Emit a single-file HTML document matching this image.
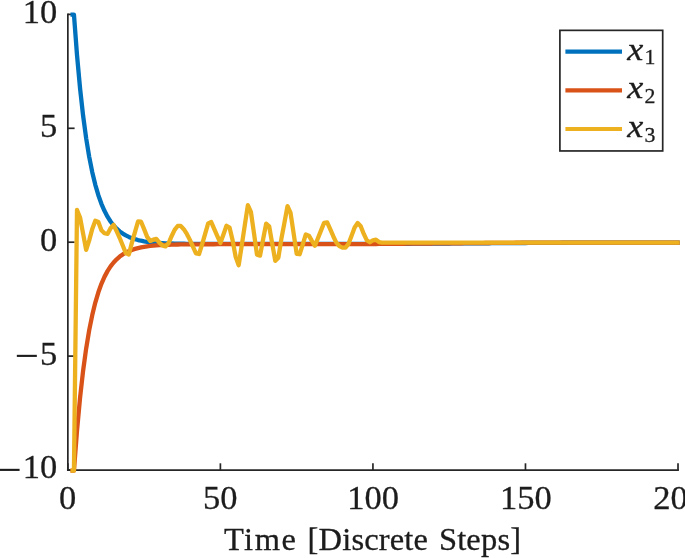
<!DOCTYPE html>
<html lang="en"><head><meta charset="utf-8"><title>State trajectories</title>
<style>
html,body{margin:0;padding:0;background:#fff;}
body{width:685px;height:558px;overflow:hidden;position:relative;font-family:"Liberation Serif","DejaVu Serif",serif;}
svg text{white-space:pre;}
</style></head><body>
<svg width="685" height="558" viewBox="0 0 685 558" style="position:absolute;left:0;top:0;display:block">
<rect x="0" y="0" width="685" height="558" fill="#ffffff"/>
<g stroke="#262626" stroke-width="1.7" fill="none" stroke-linecap="butt">
<path d="M67.85,13.4 V470.1 M66.95,470.1 H678.9"/>
<path d="M67.85,14.40 H74.6"/>
<path d="M67.85,128.30 H74.6"/>
<path d="M67.85,242.20 H74.6"/>
<path d="M67.85,356.10 H74.6"/>
<path d="M67.85,470.00 H74.6"/>
<path d="M67.85,470.1 V463.3"/>
<path d="M220.39,470.1 V463.3"/>
<path d="M372.93,470.1 V463.3"/>
<path d="M525.47,470.1 V463.3"/>
<path d="M678.01,470.1 V463.3"/>
</g>
<g fill="none" stroke-width="4.3" stroke-linejoin="round" stroke-linecap="butt">
<polyline stroke="#0072BD" points="70.50,14.60 73.95,14.60 77.00,54.97 80.05,88.23 83.10,115.64 86.15,138.23 89.21,156.84 92.26,172.17 95.31,184.81 98.36,195.22 101.41,203.80 104.46,210.87 107.51,216.70 110.56,221.50 113.61,225.45 116.66,228.71 119.71,231.39 122.76,233.61 125.82,235.43 128.87,236.93 131.92,238.17 134.97,239.19 138.02,240.03 141.07,240.73 144.12,241.30 147.17,241.77 150.22,242.15 153.27,242.47 156.32,242.74 159.37,242.95 162.42,243.13 165.48,243.28 168.53,243.40 171.58,243.50 174.63,243.58 177.68,243.65 180.73,243.71 183.78,243.75 186.83,243.79 189.88,243.82 192.93,243.85 195.98,243.87 199.03,243.89 202.09,243.90 205.14,243.91 208.19,243.92 211.24,243.93 214.29,243.94 217.34,243.94 220.39,243.95 223.44,243.95 226.49,243.95 229.54,243.96 232.59,243.96 235.64,243.96 238.69,243.96 241.75,243.96 244.80,243.96 247.85,243.96 250.90,243.96 253.95,243.97 257.00,243.97 260.05,243.97 263.10,243.97 266.15,243.97 269.20,243.97 272.25,243.97 275.30,243.97 278.36,243.97 281.41,243.97 284.46,243.97 287.51,243.97 290.56,243.97 293.61,243.97 296.66,243.97 299.71,243.97 302.76,243.97 305.81,243.97 308.86,243.97 311.91,243.97 314.96,243.97 318.02,243.97 321.07,243.97 324.12,243.97 327.17,243.97 330.22,243.97 333.27,243.97 336.32,243.97 339.37,243.97 342.42,243.97 345.47,243.97 348.52,243.97 351.57,243.97 354.63,243.97 357.68,243.97 360.73,243.97 363.78,243.97 366.83,243.97 369.88,243.97 372.93,243.97 375.98,243.95 379.03,243.93 382.08,243.91 385.13,243.89 388.18,243.87 391.23,243.85 394.29,243.83 397.34,243.81 400.39,243.79 403.44,243.77 406.49,243.75 409.54,243.73 412.59,243.71 415.64,243.69 418.69,243.67 421.74,243.66 424.79,243.64 427.84,243.62 430.90,243.60 433.95,243.58 437.00,243.56 440.05,243.54 443.10,243.52 446.15,243.50 449.20,243.48 452.25,243.46 455.30,243.44 458.35,243.42 461.40,243.40 464.45,243.38 467.50,243.36 470.56,243.34 473.61,243.32 476.66,243.30 479.71,243.28 482.76,243.26 485.81,243.24 488.86,243.23 491.91,243.21 494.96,243.19 498.01,243.17 501.06,243.15 504.11,243.13 507.17,243.11 510.22,243.09 513.27,243.07 516.32,243.05 519.37,243.03 522.42,243.01 525.47,242.99 528.52,242.97 531.57,242.95 534.62,242.93 537.67,242.91 540.72,242.89 543.77,242.87 546.83,242.85 549.88,242.83 552.93,242.81 555.98,242.80 559.03,242.78 562.08,242.76 565.13,242.74 568.18,242.72 571.23,242.70 574.28,242.68 577.33,242.66 580.38,242.64 583.44,242.62 586.49,242.60 589.54,242.60 592.59,242.60 595.64,242.60 598.69,242.60 601.74,242.60 604.79,242.60 607.84,242.60 610.89,242.60 613.94,242.60 616.99,242.60 620.04,242.60 623.10,242.60 626.15,242.60 629.20,242.60 632.25,242.60 635.30,242.60 638.35,242.60 641.40,242.60 644.45,242.60 647.50,242.60 650.55,242.60 653.60,242.60 656.65,242.60 659.71,242.60 662.76,242.60 665.81,242.60 668.86,242.60 671.91,242.60 674.96,242.60 678.01,242.60 679.70,242.60"/>
<polyline stroke="#D95319" points="70.50,470.60 73.95,470.60 77.00,430.75 80.05,397.92 83.10,370.86 86.15,348.57 89.21,330.20 92.26,315.06 95.31,302.59 98.36,292.31 101.41,283.84 104.46,276.87 107.51,271.12 110.56,266.38 113.61,262.47 116.66,259.26 119.71,256.61 122.76,254.42 125.82,252.62 128.87,251.14 131.92,249.92 134.97,248.91 138.02,248.08 141.07,247.40 144.12,246.83 147.17,246.37 150.22,245.99 153.27,245.67 156.32,245.41 159.37,245.20 162.42,245.02 165.48,244.88 168.53,244.76 171.58,244.66 174.63,244.58 177.68,244.51 180.73,244.45 183.78,244.41 186.83,244.37 189.88,244.34 192.93,244.32 195.98,244.29 199.03,244.28 202.09,244.26 205.14,244.25 208.19,244.24 211.24,244.23 214.29,244.23 217.34,244.22 220.39,244.22 223.44,244.21 226.49,244.21 229.54,244.21 232.59,244.21 235.64,244.20 238.69,244.20 241.75,244.20 244.80,244.20 247.85,244.20 250.90,244.20 253.95,244.20 257.00,244.20 260.05,244.20 263.10,244.20 266.15,244.20 269.20,244.20 272.25,244.20 275.30,244.20 278.36,244.20 281.41,244.20 284.46,244.20 287.51,244.20 290.56,244.20 293.61,244.20 296.66,244.20 299.71,244.20 302.76,244.20 305.81,244.20 308.86,244.20 311.91,244.20 314.96,244.20 318.02,244.20 321.07,244.20 324.12,244.20 327.17,244.20 330.22,244.20 333.27,244.20 336.32,244.20 339.37,244.20 342.42,244.20 345.47,244.20 348.52,244.20 351.57,244.20 354.63,244.20 357.68,244.20 360.73,244.16 363.78,244.13 366.83,244.09 369.88,244.06 372.93,244.03 375.98,243.99 379.03,243.96 382.08,243.92 385.13,243.90 388.18,243.87 391.23,243.84 394.29,243.82 397.34,243.79 400.39,243.76 403.44,243.74 406.49,243.71 409.54,243.68 412.59,243.66 415.64,243.63 418.69,243.61 421.74,243.58 424.79,243.55 427.84,243.53 430.90,243.50 433.95,243.47 437.00,243.45 440.05,243.42 443.10,243.39 446.15,243.37 449.20,243.34 452.25,243.31 455.30,243.29 458.35,243.26 461.40,243.23 464.45,243.21 467.50,243.18 470.56,243.16 473.61,243.13 476.66,243.10 479.71,243.08 482.76,243.05 485.81,243.02 488.86,243.00 491.91,242.97 494.96,242.94 498.01,242.92 501.06,242.89 504.11,242.86 507.17,242.84 510.22,242.81 513.27,242.79 516.32,242.76 519.37,242.73 522.42,242.71 525.47,242.68 528.52,242.65 531.57,242.63 534.62,242.60 537.67,242.60 540.72,242.60 543.77,242.60 546.83,242.60 549.88,242.60 552.93,242.60 555.98,242.60 559.03,242.60 562.08,242.60 565.13,242.60 568.18,242.60 571.23,242.60 574.28,242.60 577.33,242.60 580.38,242.60 583.44,242.60 586.49,242.60 589.54,242.60 592.59,242.60 595.64,242.60 598.69,242.60 601.74,242.60 604.79,242.60 607.84,242.60 610.89,242.60 613.94,242.60 616.99,242.60 620.04,242.60 623.10,242.60 626.15,242.60 629.20,242.60 632.25,242.60 635.30,242.60 638.35,242.60 641.40,242.60 644.45,242.60 647.50,242.60 650.55,242.60 653.60,242.60 656.65,242.60 659.71,242.60 662.76,242.60 665.81,242.60 668.86,242.60 671.91,242.60 674.96,242.60 678.01,242.60 679.70,242.60"/>
<polyline stroke="#EDB120" points="70.50,470.60 73.95,470.60 77.00,210.00 80.05,217.52 83.10,233.71 86.15,249.90 89.21,240.32 92.26,228.92 95.31,220.71 98.36,222.08 101.41,230.29 104.46,233.25 107.51,233.94 110.56,228.24 113.61,224.82 116.66,231.20 119.71,238.04 122.76,245.56 125.82,253.09 128.87,254.46 131.92,242.60 134.97,232.11 138.02,221.51 141.07,221.74 144.12,229.15 147.17,236.90 150.22,240.89 153.27,239.64 156.32,238.95 159.37,242.60 162.42,245.34 165.48,246.38 168.53,243.28 171.58,236.22 174.63,229.83 177.68,225.96 180.73,225.96 183.78,229.15 186.83,233.94 189.88,239.86 192.93,246.70 195.98,253.32 199.03,254.00 202.09,244.42 205.14,233.94 208.19,223.45 211.24,222.08 214.29,229.15 217.34,236.22 220.39,242.99 223.44,234.48 226.49,225.73 229.54,227.55 232.59,240.32 235.64,256.74 238.69,265.17 241.75,245.34 244.80,225.27 247.85,205.21 250.90,211.82 253.95,233.02 257.00,254.68 260.05,255.60 263.10,239.27 266.15,223.68 269.20,226.30 272.25,243.97 275.30,260.84 278.36,257.65 281.41,238.72 284.46,222.54 287.51,206.12 290.56,212.96 293.61,233.25 296.66,253.77 299.71,254.23 302.76,244.42 305.81,234.48 308.86,235.65 311.91,240.89 314.96,245.79 318.02,238.04 321.07,230.38 324.12,222.76 327.17,222.31 330.22,229.22 333.27,236.22 336.32,242.60 339.37,246.16 342.42,247.62 345.47,247.62 348.52,243.81 351.57,235.65 354.63,227.55 357.68,223.04 360.73,226.30 363.78,233.94 366.83,240.32 369.88,242.30 372.93,240.32 375.98,239.73 379.03,242.05 382.08,242.60 385.13,242.60 388.18,242.60 391.23,242.60 394.29,242.60 397.34,242.60 400.39,242.60 403.44,242.60 406.49,242.60 409.54,242.60 412.59,242.60 415.64,242.60 418.69,242.60 421.74,242.60 424.79,242.60 427.84,242.60 430.90,242.60 433.95,242.60 437.00,242.60 440.05,242.60 443.10,242.60 446.15,242.60 449.20,242.60 452.25,242.60 455.30,242.60 458.35,242.60 461.40,242.60 464.45,242.60 467.50,242.60 470.56,242.60 473.61,242.60 476.66,242.60 479.71,242.60 482.76,242.60 485.81,242.60 488.86,242.60 491.91,242.60 494.96,242.60 498.01,242.60 501.06,242.60 504.11,242.60 507.17,242.60 510.22,242.60 513.27,242.60 516.32,242.60 519.37,242.60 522.42,242.60 525.47,242.60 528.52,242.60 531.57,242.60 534.62,242.60 537.67,242.60 540.72,242.60 543.77,242.60 546.83,242.60 549.88,242.60 552.93,242.60 555.98,242.60 559.03,242.60 562.08,242.60 565.13,242.60 568.18,242.60 571.23,242.60 574.28,242.60 577.33,242.60 580.38,242.60 583.44,242.60 586.49,242.60 589.54,242.60 592.59,242.60 595.64,242.60 598.69,242.60 601.74,242.60 604.79,242.60 607.84,242.60 610.89,242.60 613.94,242.60 616.99,242.60 620.04,242.60 623.10,242.60 626.15,242.60 629.20,242.60 632.25,242.60 635.30,242.60 638.35,242.60 641.40,242.60 644.45,242.60 647.50,242.60 650.55,242.60 653.60,242.60 656.65,242.60 659.71,242.60 662.76,242.60 665.81,242.60 668.86,242.60 671.91,242.60 674.96,242.60 678.01,242.60 679.70,242.60"/>
</g>
<rect x="559.9" y="30.35" width="102.8" height="120.6" fill="#ffffff" stroke="#262626" stroke-width="1.7"/>
<path d="M565.4,51.60 H622" stroke="#0072BD" stroke-width="4.2" fill="none"/>
<path d="M565.4,90.30 H622" stroke="#D95319" stroke-width="4.2" fill="none"/>
<path d="M565.4,129.00 H622" stroke="#EDB120" stroke-width="4.2" fill="none"/>
<g fill="#1c1c1c" stroke="#1c1c1c" stroke-width="0.3" font-family="'Liberation Serif', 'DejaVu Serif', serif" font-size="34.5px">
<text transform="translate(627.3,59.50) scale(1.13,1)" font-style="italic" font-size="32px" stroke-width="0.3">x</text>
<text x="644.6" y="64.40" font-size="21.8px" stroke-width="0.3">1</text>
<text transform="translate(627.3,98.20) scale(1.13,1)" font-style="italic" font-size="32px" stroke-width="0.3">x</text>
<text x="644.6" y="103.10" font-size="21.8px" stroke-width="0.3">2</text>
<text transform="translate(627.3,136.90) scale(1.13,1)" font-style="italic" font-size="32px" stroke-width="0.3">x</text>
<text x="644.6" y="141.80" font-size="21.8px" stroke-width="0.3">3</text>
<text x="57.20" y="22.80" text-anchor="end">10</text>
<text x="57.20" y="136.70" text-anchor="end">5</text>
<text x="57.20" y="250.60" text-anchor="end">0</text>
<text x="57.20" y="364.50" text-anchor="end"><tspan font-size="43px" stroke="none" dy="5.45">−</tspan><tspan dy="-5.45" dx="0.9">5</tspan></text>
<text x="57.20" y="478.40" text-anchor="end"><tspan font-size="43px" stroke="none" dy="5.45">−</tspan><tspan dy="-5.45" dx="0.9">10</tspan></text>
<text x="67.65" y="509.0" text-anchor="middle">0</text>
<text x="220.29" y="509.0" text-anchor="middle">50</text>
<text x="373.13" y="509.0" text-anchor="middle">100</text>
<text x="525.77" y="509.0" text-anchor="middle">150</text>
<text x="679.01" y="509.0" text-anchor="middle">200</text>
<text y="549.5" font-size="32.5px"><tspan x="223.9" letter-spacing="1.5">Time</tspan> <tspan x="307.6" letter-spacing="0.16">[Discrete</tspan> <tspan x="438.9" letter-spacing="0.18">Steps]</tspan></text>
</g>
</svg>
</body></html>
